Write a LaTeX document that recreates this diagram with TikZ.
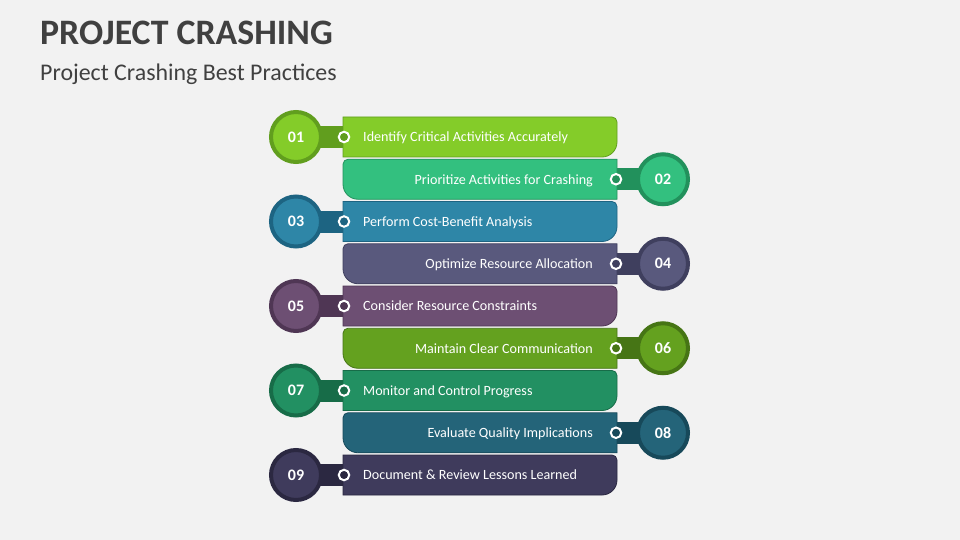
\documentclass[tikz,border=0pt]{standalone}
\usepackage{fontspec}
\setmainfont{Carlito}
\usetikzlibrary{positioning}
\pgfdeclarelayer{bottom}
\pgfdeclarelayer{back}
\pgfsetlayers{bottom,back,main}
\definecolor{bgc}{HTML}{F2F2F2}
\definecolor{titlec}{HTML}{404040}
\definecolor{bar1}{HTML}{84CC29}\definecolor{ring1}{HTML}{619E1E}
\definecolor{bar2}{HTML}{33C07F}\definecolor{ring2}{HTML}{22915C}
\definecolor{bar3}{HTML}{2E86A7}\definecolor{ring3}{HTML}{1D6482}
\definecolor{bar4}{HTML}{59597D}\definecolor{ring4}{HTML}{3F3F5E}
\definecolor{bar5}{HTML}{6D4F73}\definecolor{ring5}{HTML}{4F3654}
\definecolor{bar6}{HTML}{64A11F}\definecolor{ring6}{HTML}{467515}
\definecolor{bar7}{HTML}{229062}\definecolor{ring7}{HTML}{176C48}
\definecolor{bar8}{HTML}{246479}\definecolor{ring8}{HTML}{17495A}
\definecolor{bar9}{HTML}{3F3B5C}\definecolor{ring9}{HTML}{2B2841}
\begin{document}
\begin{tikzpicture}[x=1pt,y=1pt,
  barbox/.style={draw=ring#1,fill=bar#1,line width=0.8pt},
  numcirc/.style={circle,draw=ring#1,fill=bar#1,line width=4pt,minimum size=50pt,inner sep=0pt,
    text=white,font=\fontsize{16}{18}\selectfont\bfseries},
  dotcirc/.style={circle,draw=white,fill=ring#1,line width=2pt,minimum size=10.5pt,inner sep=0pt},
  tab/.style={draw=ring#1,line width=22pt},
  steptext/.style={text=white,inner sep=0pt,font=\fontsize{14.1}{16}\selectfont}]
\begin{pgfonlayer}{bottom}
  \fill[bgc] (0,0) rectangle (960,-540);
\end{pgfonlayer}
\useasboundingbox (0,0) rectangle (960,-540);
\node[anchor=base west,inner sep=0pt,text=titlec,font=\fontsize{35.8}{40}\selectfont\bfseries] (title) at (40,-45) {PROJECT CRASHING};
\node[anchor=base west,inner sep=0pt,text=titlec,font=\fontsize{23.9}{28}\selectfont] (subtitle) at (40,-80.7) {Project Crashing Best Practices};
\foreach \i/\txt in {1/Identify Critical Activities Accurately,
                     2/Prioritize Activities for Crashing,
                     3/Perform Cost-Benefit Analysis,
                     4/Optimize Resource Allocation,
                     5/Consider Resource Constraints,
                     6/Maintain Clear Communication,
                     7/Monitor and Control Progress,
                     8/Evaluate Quality Implications,
                     9/Document \& Review Lessons Learned}{
  \begin{scope}[yshift={-(137+(\i-1)*42.25)*1pt}]
  \ifodd\i
    \draw[barbox=\i] (343,20) -- (612,20) arc[start angle=90,end angle=0,radius=5]
      -- (617,-5) arc[start angle=0,end angle=-90,radius=15] -- (343,-20) -- cycle;
    \node[numcirc=\i] (c\i) at (296,0) {0\i};
    \node[dotcirc=\i] (d\i) at (344,0) {};
    \node[steptext,anchor=base west] (t\i) at (363,-4.8) {\txt};
  \else
    \draw[barbox=\i] (617,20) -- (348,20) arc[start angle=90,end angle=180,radius=5]
      -- (343,-5) arc[start angle=180,end angle=270,radius=15] -- (617,-20) -- cycle;
    \node[numcirc=\i] (c\i) at (663,0) {0\i};
    \node[dotcirc=\i] (d\i) at (616,0) {};
    \node[steptext,anchor=base east] (t\i) at (593,-4.8) {\txt};
  \fi
  \begin{pgfonlayer}{back}
    \draw[tab=\i] (c\i.center) -- (d\i.center);
  \end{pgfonlayer}
  \end{scope}
}
\end{tikzpicture}
\end{document}
